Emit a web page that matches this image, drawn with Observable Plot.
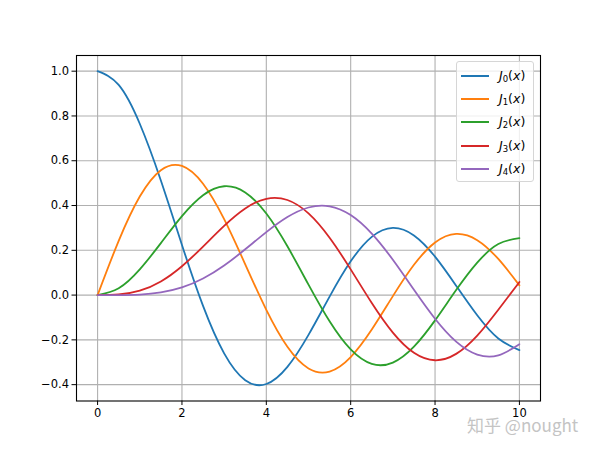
<!DOCTYPE html>
<html>
<head>
<meta charset="utf-8">
<script src="https://cdn.jsdelivr.net/npm/d3@7"></script>
<script src="https://cdn.jsdelivr.net/npm/@observablehq/plot@0.6"></script>
<style>
  html, body { margin: 0; padding: 0; background: #fff; }
  #wrap { position: relative; width: 600px; height: 450px; font-family: "DejaVu Sans", sans-serif; }
  #legend {
    position: absolute; left: 456px; top: 61px; width: 78px; height: 121px;
    border: 1px solid #d6d6d6; border-radius: 3px; background: rgba(255,255,255,0.8);
    box-sizing: border-box; padding-top: 2px;
  }
  .row { display: flex; align-items: center; height: 23.3px; }
  .sw { width: 28px; height: 2px; margin-left: 4px; margin-right: 10px; }
  .lab { font-size: 12.5px; color: #000; white-space: nowrap; }
  .lab sub { font-size: 8.5px; font-style: normal; vertical-align: -2px; }
  #wm { position: absolute; left: 467px; top: 412px; font-size: 17px; color: #c4c4c4;
        font-family: "Noto Sans CJK SC", "DejaVu Sans", sans-serif; white-space: nowrap; }
</style>
</head>
<body>
<div id="wrap"></div>
<script>
// x sample positions and Bessel function values
const xValues = [0,0.5,1,1.5,2,2.5,3,3.5,4,4.5,5,5.5,6,6.5,7,7.5,8,8.5,9,9.5,10];
const j0 = [1.0,0.9385,0.7652,0.5118,0.2239,-0.0484,-0.2601,-0.3801,-0.3971,-0.3205,-0.1776,-0.0068,0.1506,0.2601,0.3001,0.2663,0.1717,0.0419,-0.0903,-0.1939,-0.2459];
const j1 = [0,0.2423,0.4401,0.5579,0.5767,0.4971,0.3391,0.1374,-0.0660,-0.2311,-0.3276,-0.3414,-0.2767,-0.1538,-0.0047,0.1352,0.2346,0.2731,0.2453,0.1613,0.0435];
const j2 = [0,0.0306,0.1149,0.2321,0.3528,0.4461,0.4861,0.4586,0.3641,0.2178,0.0466,-0.1173,-0.2429,-0.3074,-0.3014,-0.2303,-0.1130,0.0223,0.1448,0.2279,0.2546];
const j3 = [0,0.0026,0.0196,0.0610,0.1289,0.2167,0.3091,0.3868,0.4302,0.4247,0.3649,0.2561,0.1148,-0.0354,-0.1676,-0.2580,-0.2911,-0.2626,-0.1809,-0.0653,0.0583];
const j4 = [0,0.0002,0.0025,0.0118,0.0340,0.0738,0.1320,0.2044,0.2811,0.3484,0.3912,0.3967,0.3576,0.2747,0.1578,0.0239,-0.1054,-0.2077,-0.2655,-0.2691,-0.2196];
const seriesNames = ["J0","J1","J2","J3","J4"];
const seriesSubs = ["0","1","2","3","4"];
const colors = ["#1f77b4","#ff7f0e","#2ca02c","#d62728","#9467bd"];
const xTicks = [0,2,4,6,8,10];
const yTicks = [-0.4,-0.2,0.0,0.2,0.4,0.6,0.8,1.0];

const allSeries = [j0,j1,j2,j3,j4];
const data = [];
allSeries.forEach((vals, k) => vals.forEach((v, i) => data.push({x: xValues[i], y: v, s: seriesNames[k]})));

const chart = Plot.plot({
  width: 600, height: 450,
  marginLeft: 76, marginRight: 60, marginTop: 55, marginBottom: 49.5,
  style: {fontFamily: "DejaVu Sans", fontSize: "11.5px", color: "#000", background: "#fff"},
  x: {domain: [-0.5, 10.5], ticks: xTicks, tickFormat: d => String(d), label: null},
  y: {domain: [-0.473, 1.070], ticks: yTicks, tickFormat: d3.format(".1f"), label: null},
  color: {domain: seriesNames, range: colors},
  marks: [
    Plot.gridX(xTicks, {stroke: "#b0b0b0", strokeOpacity: 1, strokeWidth: 1.1}),
    Plot.gridY(yTicks, {stroke: "#b0b0b0", strokeOpacity: 1, strokeWidth: 1.1}),
    Plot.line(data, {x: "x", y: "y", z: "s", stroke: "s", strokeWidth: 1.8, curve: "natural"}),
    Plot.frame({stroke: "#000", strokeWidth: 1.1}),
    Plot.axisX(xTicks, {tickSize: 4.5, tickPadding: 3, tickFormat: d => String(d), fontSize: "11.5px"}),
    Plot.axisY(yTicks, {tickSize: 4.5, tickPadding: 3, tickFormat: d3.format(".1f"), fontSize: "11.5px"})
  ]
});

const wrap = document.getElementById("wrap");
wrap.appendChild(chart);

const legend = document.createElement("div");
legend.id = "legend";
seriesNames.forEach((n, k) => {
  const row = document.createElement("div");
  row.className = "row";
  row.innerHTML = `<div class="sw" style="background:${colors[k]}"></div><div class="lab"><i>J</i><sub>${seriesSubs[k]}</sub>(<i>x</i>)</div>`;
  legend.appendChild(row);
});
wrap.appendChild(legend);

const wm = document.createElement("div");
wm.id = "wm";
wm.textContent = "知乎 @nought";
wrap.appendChild(wm);
</script>
</body>
</html>
